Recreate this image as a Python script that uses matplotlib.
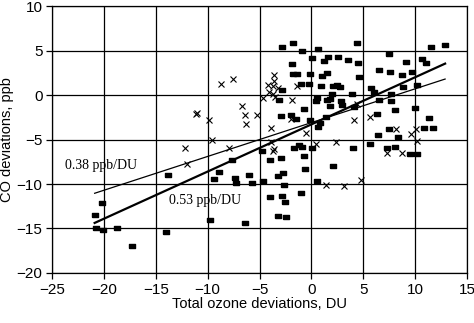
import numpy as np
import matplotlib
matplotlib.use("Agg")
import matplotlib.pyplot as plt

# squares (filled)
sq_x = [-2.8, -1.8, -0.9, 0.6, 4.4, 11.5, 12.9,
        -1.9, 0.1, 1.2, 1.6, 2.6, 3.5, 4.5, 7.5, 9.1, 10.7, 11.1,
        -1.8, -1.4, -0.1, 1.0, 1.5, 4.6, 6.5, 7.6, 8.7, 9.7,
        -2.8, -1.0, -0.2, 0.9, 2.1, 2.5, 2.8, 2.0, 3.9, 5.8, 6.0, 7.7, 8.8, 10.2,
        -3.1, 0.5, 0.4, 1.5, 1.8, 2.9, 3.0, 6.5, 7.7, 1.8, -0.7, 8.1, 10.0,
        -2.9, -2.0, -1.5, -0.1, 0.8, 0.6, 1.4, 4.1, 6.3, 11.3, 7.5, 10.9, 11.7, 6.4, 8.4,
        -1.7, -1.2, -0.9, 4.0, 5.7, 7.3, 8.1,
        -4.8, 0.1, 9.5, 10.2, -4.0, -2.9, -0.7, -0.6, 2.1,
        -6.0, -3.2, -2.7, -5.7, -4.7, -2.6, 0.5, -1.0, -4.0, -2.8, -2.5, -3.2, -2.4, -6.4,
        -20.2, -20.9, -20.8, -20.1, -18.7, -17.3, -13.8, -14.0, -9.8, -9.4, -8.9, -7.7, -7.4, -7.3]
sq_y = [5.4, 5.9, 4.9, 5.2, 5.8, 5.4, 5.6,
        3.5, 4.2, 3.8, 4.3, 4.3, 3.9, 3.6, 4.6, 3.7, 4.1, 3.6,
        2.4, 2.4, 2.4, 2.1, 2.5, 2.0, 2.8, 2.6, 2.3, 2.6,
        0.6, 1.3, 1.2, 1.0, 1.0, 1.1, 0.9, 0.1, 0.1, 0.8, 0.4, 0.1, 0.9, 1.1,
        -0.6, -0.3, -0.7, -0.5, -0.4, -0.7, -1.1, -0.5, -0.7, -1.2, -1.6, -1.7, -1.4,
        -2.4, -2.2, -2.7, -2.8, -3.1, -3.6, -2.5, -1.3, -2.1, -2.6, -3.8, -3.7, -3.7, -4.5, -4.7,
        -5.9, -5.6, -5.8, -5.9, -5.5, -5.9, -5.8,
        -6.3, -5.9, -6.6, -6.6, -7.3, -7.1, -6.9, -8.3, -8.0,
        -9.0, -9.1, -8.8, -9.9, -9.7, -10.1, -9.7, -11.0, -11.5, -11.4, -12.0, -13.6, -13.7, -14.4,
        -12.1, -13.5, -15.0, -15.2, -15.0, -17.0, -9.0, -15.4, -14.0, -9.4, -8.7, -7.3, -9.3, -9.9]

# crosses
cr_x = [-8.7, -7.6, -11.1, -11.0, -9.9, -6.7, -6.4, -6.3, -5.2, -9.6, -12.2, -7.9, -12.0,
        -3.6, -3.6, -4.2, -3.7, -3.2, -4.1, -3.7, -3.5, -4.7, -1.4, -1.9,
        -3.9, -2.0, -0.5, 4.1, 5.7, 4.4, 8.2, 9.6, 10.2, 10.1,
        -3.9, -3.7, -3.6, 0.4, 2.4, 1.4, 3.1, 4.8, 7.3, 8.7]
cr_y = [1.3, 1.8, -2.1, -2.0, -2.8, -1.2, -2.2, -3.2, -2.2, -5.0, -6.0, -5.9, -7.8,
        2.3, 1.6, 1.1, 1.0, 0.8, 0.4, 0.1, -0.2, -0.3, 1.0, -0.6,
        -3.7, -2.7, -4.3, -2.8, -2.5, -1.0, -3.8, -4.4, -5.2, -3.8,
        -5.3, -6.3, -6.1, -5.5, -5.3, -10.1, -10.2, -9.6, -6.5, -6.5]

# regression lines
slopes = [0.53, 0.38]
intercepts = [-3.3, -3.1]
line_widths = [1.6, 0.9]
line_x = [-20.9, 12.9]
line_labels = ["0.53 ppb/DU", "0.38 ppb/DU"]

plt.rcParams['font.family'] = ['Liberation Sans', 'DejaVu Sans']

fig = plt.figure(figsize=(4.74, 3.23), dpi=100)
ax = fig.add_axes([0.110, 0.155, 0.875, 0.826])

rect = [(-1.4, -1), (1.4, -1), (1.4, 1), (-1.4, 1), (-1.4, -1)]
ax.plot(sq_x, sq_y, linestyle='none', marker=rect, markersize=4.8,
        color='black', zorder=3)
ax.plot(cr_x, cr_y, linestyle='none', marker='x', markersize=4,
        markeredgewidth=0.8, color='black', zorder=3)

xs = np.array(line_x)
for m, b, lw in zip(slopes, intercepts, line_widths):
    ax.plot(xs, m * xs + b, color='black', linewidth=lw, zorder=4)

ax.text(-23.8, -7.9, line_labels[1], family='Liberation Serif', fontsize=10,
        va='center', ha='left')
ax.text(-13.7, -11.9, line_labels[0], family='Liberation Serif', fontsize=10,
        va='center', ha='left')

ax.set_xlim(-25, 15)
ax.set_ylim(-20, 10)
ax.set_xticks(np.arange(-25, 16, 5))
ax.set_yticks(np.arange(-20, 11, 5))
ax.grid(True, color='black', linewidth=0.9)
ax.set_axisbelow(True)
for s in ax.spines.values():
    s.set_color('black')
    s.set_linewidth(0.9)
ax.tick_params(direction='out', length=4, width=0.9, labelsize=11, pad=3)
ax.set_xlabel('Total ozone deviations, DU', fontsize=10.5, labelpad=0)
ax.set_ylabel('CO deviations, ppb', fontsize=10.5, labelpad=2)

fig.savefig('out.png', dpi=100)
